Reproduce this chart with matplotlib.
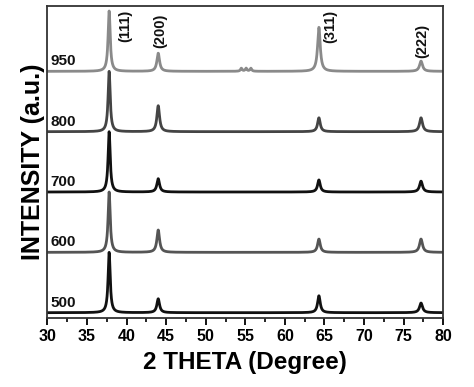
import numpy as np
import matplotlib
matplotlib.use("Agg")
import matplotlib.pyplot as plt

plt.rcParams["font.family"] = ["Liberation Sans", "DejaVu Sans"]

# ---- data ----
temps = ["500", "600", "700", "800", "950"]
offsets = [0, 1, 2, 3, 4]
colors = ["#111111", "#555555", "#111111", "#444444", "#8a8a8a"]
peak_pos = [37.8, 44.0, 64.3, 77.2]
peak_labels = ["(111)", "(200)", "(311)", "(222)"]
peak_heights = {
    "500": [1.00, 0.23, 0.28, 0.16],
    "600": [1.00, 0.37, 0.22, 0.22],
    "700": [1.00, 0.22, 0.20, 0.18],
    "800": [1.00, 0.43, 0.23, 0.23],
    "950": [1.00, 0.30, 0.73, 0.17],
}
peak_widths = [0.32, 0.40, 0.40, 0.45]
extra_pos_950 = [54.5, 55.1, 55.7]
extra_h_950 = [0.05, 0.05, 0.05]

label_x = [39.8, 44.2, 65.7, 77.3]
label_top = [5.02, 4.95, 5.02, 4.78]

def profile(x, centers, heights, widths):
    y = np.zeros_like(x)
    for c, h, w in zip(centers, heights, widths):
        g = (w / 2) ** 2
        y += h * g / ((x - c) ** 2 + g)
    return y

x = np.linspace(30, 80, 3000)

fig = plt.figure(figsize=(4.74, 3.87), dpi=100)
ax = fig.add_axes([0.100, 0.178, 0.835, 0.806])

for t, off, col in zip(temps, offsets, colors):
    y = profile(x, peak_pos, peak_heights[t], peak_widths)
    if t == "950":
        y += profile(x, extra_pos_950, extra_h_950, [0.25] * 3)
    ax.plot(x, y + off, color=col, lw=2.0)
    ax.text(30.4, off + 0.05, t, fontsize=11, fontweight="bold",
            ha="left", va="bottom", color="#111111")

for lx, lt, lab in zip(label_x, label_top, peak_labels):
    ax.text(lx, lt, lab, rotation=90, fontsize=10.5, fontweight="bold",
            ha="center", va="top", color="#111111")

ax.set_xlim(30, 80)
ax.set_ylim(-0.09, 5.08)
ax.set_xticks(np.arange(30, 81, 5))
ax.set_xticks(np.arange(32.5, 80, 5), minor=True)
ax.set_yticks([])
ax.tick_params(axis="x", which="major", direction="out", length=5, width=1.3,
               labelsize=11.5, pad=3)
ax.tick_params(axis="x", which="minor", direction="out", length=3, width=1.2)
for lab in ax.get_xticklabels():
    lab.set_fontweight("bold")
for s in ax.spines.values():
    s.set_linewidth(1.3)
    s.set_color("#333333")

ax.set_xlabel("2 THETA (Degree)", fontsize=17.5, fontweight="bold", labelpad=5)
ax.set_ylabel("INTENSITY (a.u.)", fontsize=18, fontweight="bold", labelpad=2)

fig.savefig("out.png", dpi=100)
